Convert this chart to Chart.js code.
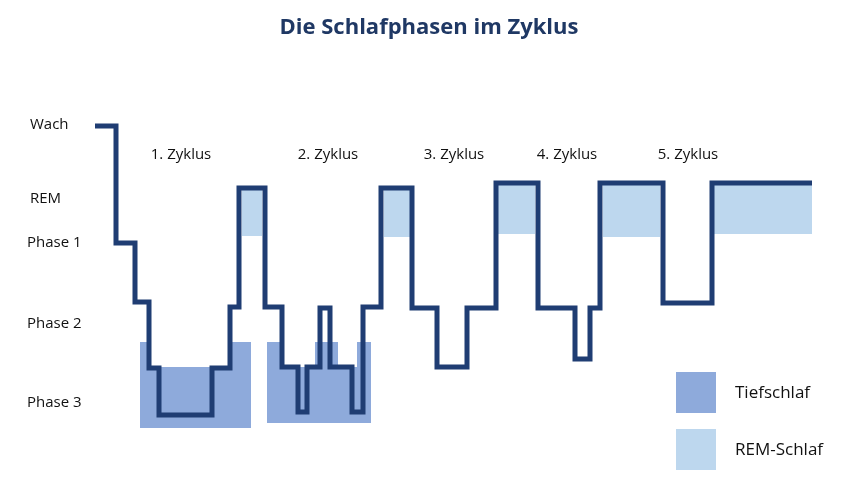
<!DOCTYPE html>
<html>
<head>
<meta charset="utf-8">
<style>
  html, body { margin: 0; padding: 0; background: #fff; }
  #box { width: 859px; height: 500px; }
</style>
</head>
<body>

<div id="box"><canvas id="myChart" width="859" height="500"></canvas></div>

<script src="https://cdn.jsdelivr.net/npm/chart.js"></script>
<script>
// Hypnogramm: Zeitpunkte der Wechsel (Zeiteinheiten) und neue Tiefe (0 = Wach, groesser = tiefer)
const stepTime  = [0, 21, 40, 54, 64, 117, 135, 144, 170, 187, 203, 212, 225, 235, 257, 268, 286, 317, 342, 372, 401, 443, 480, 495, 505, 568, 617, 717];
const stepDepth = [0, 117, 176, 242, 289, 242, 181, 62, 181, 241, 286, 241, 182, 241, 286, 181, 62, 182, 241, 182, 57, 182, 233, 182, 57, 177, 57, 57];

// REM-Schlaf Bereiche: [von, bis, oben, unten]
const remStart  = [147, 289, 403, 508, 618];
const remEnd    = [167, 316, 440, 565, 717];
const remTop    = [62, 62, 57, 57, 57];
const remBottom = [110, 111, 108, 111, 108];

// Tiefschlaf Bereiche
const deepStart  = [45, 45, 135, 172, 172, 220, 262];
const deepEnd    = [156, 55, 156, 276, 187, 243, 276];
const deepTop    = [241, 216, 216, 241, 216, 216, 216];
const deepBottom = [302, 241, 241, 297, 241, 241, 241];

// Beschriftungen
const stageLabels = ['Wach', 'REM', 'Phase 1', 'Phase 2', 'Phase 3'];
const stageLabelDepth = [-1, 73, 117, 198, 277];
const cycleLabels = ['1. Zyklus', '2. Zyklus', '3. Zyklus', '4. Zyklus', '5. Zyklus'];
const cycleLabelTime = [86, 233, 359, 472, 593];
const legendLabels = ['Tiefschlaf', 'REM-Schlaf'];

const lineColor = '#1f3d73';
const deepColor = '#8eaadb';
const remColor  = '#bdd7ee';

function box(x0, x1, top, bottom, color) {
    return {
        data: [{x: x0, y: top}, {x: x1, y: top}],
        borderWidth: 0,
        pointRadius: 0,
        backgroundColor: color,
        fill: {value: bottom},
        order: 2
    };
}

let datasets = [];
for (let i = 0; i < deepStart.length; i++) {
    datasets.push(box(deepStart[i], deepEnd[i], deepTop[i], deepBottom[i], deepColor));
}
for (let i = 0; i < remStart.length; i++) {
    datasets.push(box(remStart[i], remEnd[i], remTop[i], remBottom[i], remColor));
}
datasets.push({
    data: stepTime.map((t, i) => ({x: t, y: stepDepth[i]})),
    stepped: true,
    borderColor: lineColor,
    borderWidth: 5,
    borderJoinStyle: 'miter',
    borderCapStyle: 'butt',
    pointRadius: 0,
    fill: false,
    order: 0
});

// Texte zeichnen
const textPlugin = {
    id: 'texts',
    afterDraw(chart) {
        const c = chart.ctx;
        const xs = chart.scales.x, ys = chart.scales.y;
        c.save();
        c.textBaseline = 'middle';

        c.fillStyle = '#1f3864';
        c.font = 'bold 22px "Open Sans"';
        c.textAlign = 'center';
        c.fillText('Die Schlafphasen im Zyklus', 429, 28);

        c.fillStyle = '#111';
        c.font = '15px "Open Sans"';
        c.textAlign = 'left';
        stageLabels.forEach((s, i) => {
            c.fillText(s, s === 'Wach' || s === 'REM' ? 30 : 27, ys.getPixelForValue(stageLabelDepth[i]));
        });
        c.textAlign = 'center';
        cycleLabels.forEach((s, i) => {
            c.fillText(s, xs.getPixelForValue(cycleLabelTime[i]), 155);
        });

        // Legende
        const cols = [deepColor, remColor];
        c.font = '17px "Open Sans"';
        c.textAlign = 'left';
        legendLabels.forEach((s, i) => {
            const y = 372 + i * 57;
            c.fillStyle = cols[i];
            c.fillRect(676, y, 40, 41);
            c.fillStyle = '#111';
            c.fillText(s, 735, y + 21);
        });
        c.restore();
    }
};

let ctx = document.getElementById('myChart').getContext('2d');
let chart = new Chart(ctx, {
    type: 'line',
    data: { datasets: datasets },
    options: {
        responsive: false,
        animation: false,
        devicePixelRatio: 1,
        layout: { padding: 0 },
        plugins: { legend: { display: false }, tooltip: { enabled: false }, title: { display: false } },
        scales: {
            x: { type: 'linear', min: -95, max: 764, display: false },
            y: { type: 'linear', min: -126, max: 374, reverse: true, display: false }
        }
    },
    plugins: [textPlugin]
});
</script>

</body>
</html>
